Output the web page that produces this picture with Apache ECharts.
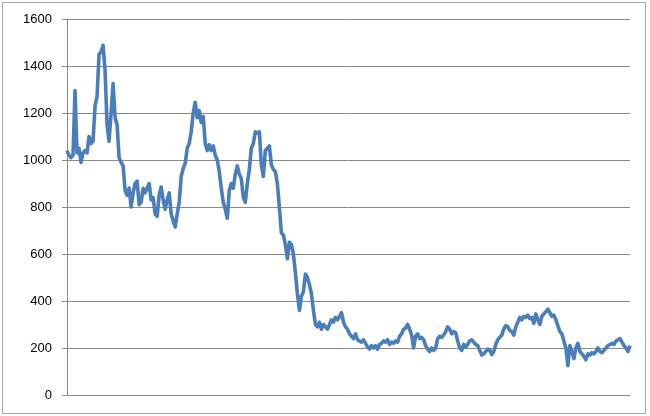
<!DOCTYPE html>
<html><head><meta charset="utf-8">
<script src="https://cdn.jsdelivr.net/npm/echarts@6/dist/echarts.min.js"></script>
<style>html,body{margin:0;padding:0;background:#fff}#c{width:650px;height:416px}</style>
</head><body><div id="c"></div>
<script>
var yTicks = [0,200,400,600,800,1000,1200,1400,1600];
var values = [
1040,1020,1010,1020,1295,1030,1050,990,1030,1040,1030,1100,1070,1080,1230,1270,1450,1460,1488,1380,
1150,1080,1200,1325,1180,1150,1010,990,975,870,850,880,800,860,900,910,810,820,880,860,
880,900,830,840,770,760,850,885,830,790,830,860,770,740,715,770,820,930,965,985,
1050,1070,1120,1200,1245,1180,1210,1160,1185,1070,1040,1065,1040,1060,1020,1000,950,880,820,790,
752,870,900,880,940,975,940,920,840,820,900,960,1050,1070,1120,1115,1120,980,930,1040,
1050,1060,980,960,950,900,800,690,680,640,580,650,640,600,520,430,360,420,440,515,
500,470,430,360,300,290,310,280,300,290,280,300,320,310,330,320,335,350,310,290,
280,260,250,240,260,235,230,225,235,220,205,195,210,200,210,195,215,220,230,225,
235,215,225,220,230,225,250,260,280,285,300,280,255,200,250,260,240,245,235,210,
195,185,200,190,200,240,250,245,255,270,290,280,260,270,265,230,200,190,215,205,
215,230,235,225,215,210,190,170,175,185,195,190,172,185,215,235,245,255,280,295,
290,275,270,255,290,310,330,320,335,330,340,325,330,305,345,320,300,335,345,355,
365,350,335,340,320,295,270,260,230,200,125,210,185,155,200,220,185,175,165,150,
175,170,180,175,185,200,185,180,190,200,210,215,220,215,230,235,240,225,210,200,
185,210
];
var categories = values.map(function(_, i){ return String(i + 1); });

var chart = echarts.init(document.getElementById('c'), null, {renderer:'canvas'});
chart.setOption({
  animation:false,
  backgroundColor:'#ffffff',
  grid:{left:67, right:20, top:19, bottom:21, containLabel:false},
  xAxis:{
    type:'category', data:categories, boundaryGap:false,
    axisLine:{show:true, lineStyle:{color:'#8a8a8a', width:1}},
    axisTick:{show:false}, axisLabel:{show:false}, splitLine:{show:false}
  },
  yAxis:{
    type:'value', min:yTicks[0], max:yTicks[yTicks.length-1], interval:200,
    axisLine:{show:true, lineStyle:{color:'#8a8a8a', width:1}},
    axisTick:{show:true, length:5, lineStyle:{color:'#8a8a8a'}},
    axisLabel:{color:'#000', fontSize:13, fontFamily:'Liberation Sans, Arial, sans-serif', margin:15,
      formatter:function(v){ return String(v); }},
    splitLine:{show:true, lineStyle:{color:'#8a8a8a', width:1}}
  },
  series:[{
    type:'line', data:values, symbol:'none', smooth:false,
    lineStyle:{color:'#4a7ebb', width:3.6, join:'round'},
    itemStyle:{color:'#4a7ebb'}
  }],
  graphic:[{
    type:'rect', shape:{x:2.5, y:2.5, width:643, height:411},
    style:{fill:'none', stroke:'#a6a6a6', lineWidth:1}, silent:true, z:-1
  }]
});
</script></body></html>
